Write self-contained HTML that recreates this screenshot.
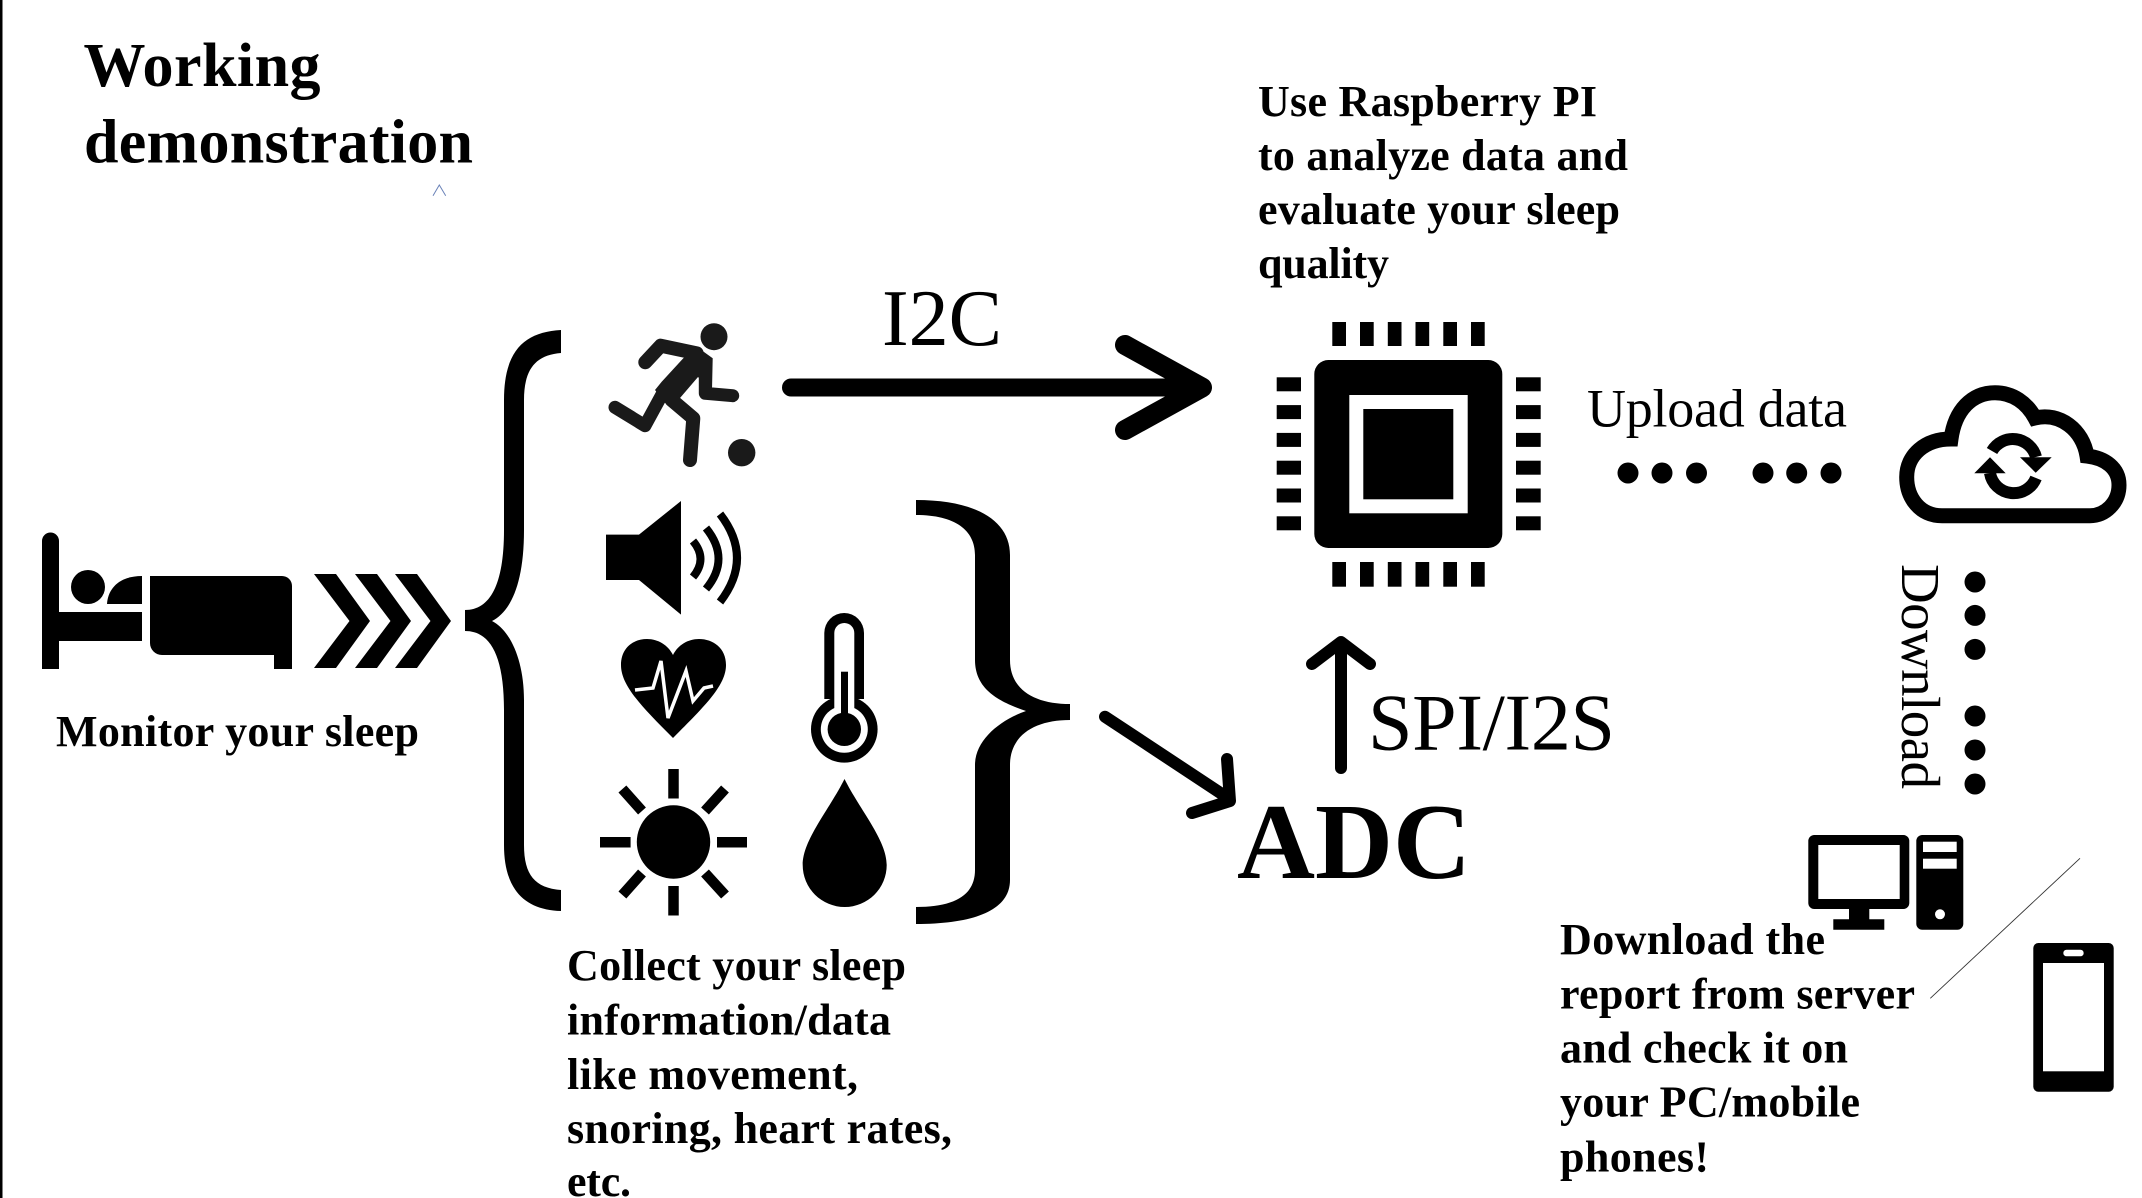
<!DOCTYPE html>
<html><head><meta charset="utf-8"><title>Working demonstration</title>
<style>html,body{margin:0;padding:0;background:#fff}svg{display:block}
text{font-family:"Liberation Serif",serif;fill:#000}
.b{font-weight:bold;font-size:44px}
</style></head><body>
<svg xmlns="http://www.w3.org/2000/svg" width="2142" height="1198" viewBox="0 0 2142 1198">
<rect width="2142" height="1198" fill="#fff"/>
<rect x="0" y="0" width="2.5" height="1198" fill="#000"/>

<!-- heading -->
<text x="83.500" y="86" font-size="62" font-weight="bold" textLength="237" lengthAdjust="spacing">Working</text>
<text x="84" y="162.700" font-size="62" font-weight="bold" textLength="389" lengthAdjust="spacing">demonstration</text>
<polyline points="433,195.700 439.300,185 445.700,195.700" fill="none" stroke="#6a82b8" stroke-width="1"/>

<!-- bed -->
<path d="M42,669V541a8.500,8.500 0 0 1 17,0V612H142V641H59V669Z"/>
<ellipse cx="88" cy="587" rx="17" ry="17"/>
<path d="M107,604C108,588 120,576 142,576V604Z"/>
<path d="M150,576H282a10,10 0 0 1 10,10V669H274V655H162a12,12 0 0 1 -12,-12Z"/>
<g id="chev">
<polygon points="314,574 336,574 370,621 336,668 314,668 349.500,621"/>
<polygon points="355,574 377,574 411,621 377,668 355,668 390.500,621"/>
<polygon points="395,574 417,574 451,621 417,668 395,668 430.500,621"/>
</g>
<text class="b" x="56" y="746" textLength="363" lengthAdjust="spacing">Monitor your sleep</text>

<!-- left brace -->
<path d="M561,330C525,332 504,350 504,400L504,530C504,585 490,610 465,610L465,631C490,631 504,655 504,710L504,845C504,890 525,910 561,911L561,890C535,888 524,875 524,845L524,700C524,660 510,630 492,621C510,612 524,585 524,530L524,400C524,370 535,355 561,353Z"/>

<!-- runner -->
<g fill="none" stroke="#1a1a1a" stroke-linecap="round" stroke-linejoin="round">
<polyline points="645.300,362.300 660.700,345.700 696.700,353.300" stroke-width="14"/>
<polyline points="705.300,367.300 705.300,393.300 732.700,395.700" stroke-width="13"/>
<polyline points="615,407.300 645,425.700 661.700,395" stroke-width="13"/>
<polyline points="671.700,400 693.300,418.300 690,460" stroke-width="14"/>
</g>
<polygon points="696.700,346.700 712.700,358.300 712,390 698,377 680,398 665,403 655,390 661.700,381.700 683.300,358.300" fill="#1a1a1a"/>
<circle cx="714" cy="336.700" r="13.500" fill="#1a1a1a"/>
<circle cx="741.700" cy="452.700" r="13.700" fill="#1a1a1a"/>

<!-- speaker -->
<polygon points="606,534.600 639,534.600 681,501 681,614.600 639,580 606,580"/>
<g fill="none" stroke="#000" stroke-width="8">
<path d="M693,541Q708,559 693,577"/>
<path d="M706,528Q731,559 706,589"/>
<path d="M720,514Q754,558 720,602"/>
</g>

<!-- heart -->
<path d="M673,738C640,705 621,685 621,665C621,648 633,639 647,639C658,639 668,645 673,655C678,645 688,639 699,639C713,639 726,648 726,665C726,685 706,705 673,738Z"/>
<polyline points="635,690 653,688 661,661 668,718 686,671 693,701 704,688 713,686" fill="none" stroke="#fff" stroke-width="3.500"/>

<!-- sun -->
<circle cx="673.500" cy="842" r="36.700"/>
<g stroke="#000" stroke-width="10.500" fill="none">
<path d="M673.500,769V798.500M673.500,886V915.500M600,842.300H630.600M717,842.300H747"/>
<path d="M622.400,789L642,811M725,789L705,811M622.400,895L642,873M725,895L705,873"/>
</g>

<!-- thermometer -->
<path d="M824.300,699V633a19.850,20 0 0 1 39.700,0V699Z"/>
<circle cx="844.300" cy="729.300" r="33.300"/>
<path d="M834.300,710V633a10,10 0 0 1 20,0V710Z" fill="#fff"/>
<circle cx="844.300" cy="729.300" r="23.500" fill="#fff"/>
<circle cx="844.300" cy="729.300" r="16.700"/>
<rect x="841" y="671.700" width="7" height="45"/>

<!-- drop -->
<path d="M844.500,779C860,810 886.700,840 886.700,865A42,42 0 0 1 802.700,865C802.700,840 829,810 844.500,779Z"/>

<!-- right brace -->
<path d="M916,500C975,500 1010,520 1010,555L1010,660C1010,690 1035,704 1070,704L1070,720C1035,720 1010,735 1010,765L1010,880C1010,910 975,924 916,924L916,907C955,907 975,895 975,870L975,765C975,740 1000,720 1026,711C1000,702 975,690 975,660L975,555C975,530 955,515 916,515Z"/>

<text x="567" y="980" class="b" textLength="339" lengthAdjust="spacing">Collect your sleep</text>
<text x="567" y="1034.500" class="b" textLength="324" lengthAdjust="spacing">information/data</text>
<text x="567" y="1089" class="b" textLength="291" lengthAdjust="spacing">like movement,</text>
<text x="567" y="1143" class="b" textLength="385" lengthAdjust="spacing">snoring, heart rates,</text>
<text x="567" y="1196" class="b" textLength="64" lengthAdjust="spacing">etc.</text>

<!-- I2C arrow -->
<text x="882" y="345" font-size="80" textLength="120" lengthAdjust="spacing">I2C</text>
<line x1="791" y1="387.500" x2="1195" y2="387.500" stroke="#000" stroke-width="18" stroke-linecap="round"/>
<polyline points="1125,345 1202,387.500 1125,430" fill="none" stroke="#000" stroke-width="20" stroke-linecap="round" stroke-linejoin="round"/>

<!-- SE arrow -->
<g fill="none" stroke="#000" stroke-width="12" stroke-linecap="round" stroke-linejoin="round">
<line x1="1105" y1="716.700" x2="1228" y2="798"/>
<polyline points="1227,759 1230,801 1192,813"/>
</g>
<text x="1237" y="878" font-size="108" font-weight="bold" textLength="234" lengthAdjust="spacing">ADC</text>

<!-- up arrow -->
<g fill="none" stroke="#000" stroke-width="12" stroke-linecap="round" stroke-linejoin="round">
<line x1="1341" y1="768" x2="1341" y2="645"/>
<polyline points="1312,664 1341,642 1370,664"/>
</g>
<text x="1368" y="749.400" font-size="80" textLength="247" lengthAdjust="spacing">SPI/I2S</text>

<!-- raspberry text -->
<text x="1258" y="116" class="b" textLength="339" lengthAdjust="spacing">Use Raspberry PI</text>
<text x="1258" y="170" class="b" textLength="370" lengthAdjust="spacing">to analyze data and</text>
<text x="1258" y="224" class="b" textLength="362" lengthAdjust="spacing">evaluate your sleep</text>
<text x="1258" y="278" class="b" textLength="131" lengthAdjust="spacing">quality</text>

<!-- chip -->
<rect x="1314.300" y="360" width="188" height="188" rx="14"/>
<rect x="1349.300" y="395" width="118.400" height="118.300" fill="#fff"/>
<rect x="1363.300" y="409" width="90" height="90.300"/>
<g>
<rect x="1332.300" y="322" width="13.700" height="24"/><rect x="1360" y="322" width="13.700" height="24"/><rect x="1387.800" y="322" width="13.700" height="24"/><rect x="1415.500" y="322" width="13.700" height="24"/><rect x="1443.300" y="322" width="13.700" height="24"/><rect x="1471" y="322" width="13.700" height="24"/>
<rect x="1332.300" y="562" width="13.700" height="24.700"/><rect x="1360" y="562" width="13.700" height="24.700"/><rect x="1387.800" y="562" width="13.700" height="24.700"/><rect x="1415.500" y="562" width="13.700" height="24.700"/><rect x="1443.300" y="562" width="13.700" height="24.700"/><rect x="1471" y="562" width="13.700" height="24.700"/>
<rect x="1276.700" y="377.300" width="24.300" height="14"/><rect x="1276.700" y="405.100" width="24.300" height="14"/><rect x="1276.700" y="432.900" width="24.300" height="14"/><rect x="1276.700" y="460.700" width="24.300" height="14"/><rect x="1276.700" y="488.500" width="24.300" height="14"/><rect x="1276.700" y="516.300" width="24.300" height="14"/>
<rect x="1516" y="377.300" width="24.700" height="14"/><rect x="1516" y="405.100" width="24.700" height="14"/><rect x="1516" y="432.900" width="24.700" height="14"/><rect x="1516" y="460.700" width="24.700" height="14"/><rect x="1516" y="488.500" width="24.700" height="14"/><rect x="1516" y="516.300" width="24.700" height="14"/>
</g>

<!-- upload -->
<text x="1587" y="426.500" font-size="54" textLength="260" lengthAdjust="spacing">Upload data</text>
<g>
<circle cx="1628" cy="473" r="10.500"/><circle cx="1662" cy="473" r="10.500"/><circle cx="1696.500" cy="473" r="10.500"/>
<circle cx="1763" cy="473" r="10.500"/><circle cx="1796.700" cy="473" r="10.500"/><circle cx="1831" cy="473" r="10.500"/>
<circle cx="1975" cy="582" r="10.500"/><circle cx="1975" cy="615.400" r="10.500"/><circle cx="1975" cy="649.400" r="10.500"/>
<circle cx="1975" cy="716" r="10.500"/><circle cx="1975" cy="750" r="10.500"/><circle cx="1975" cy="784" r="10.500"/>
</g>

<!-- cloud -->
<path d="M1942,515.700C1920,515.700 1906.700,498 1906.700,477C1906.700,455 1925,439 1951,439C1955,410 1972,392.700 1995,392.700C2013,392.700 2027,403 2035,418C2060,412 2083,430 2087,456C2105,458 2119,468 2119,485C2119,503 2105,515.700 2090,515.700Z" fill="none" stroke="#000" stroke-width="15"/>
<g fill="none" stroke="#000" stroke-width="12">
<path d="M1992,451A24,24 0 0 1 2036,457"/>
<path d="M1990,473A24,24 0 0 0 2036,478"/>
</g>
<polygon points="2020,457.300 2051.700,457.300 2035.700,472.700"/>
<polygon points="1974.300,473.300 2005.700,473.300 1990,457.300"/>

<!-- download -->
<text transform="translate(1902,564) rotate(90)" font-size="55" textLength="225" lengthAdjust="spacing">Download</text>

<!-- PC -->
<path fill-rule="evenodd" d="M1814.300,835H1903.300a6,6 0 0 1 6,6V903a6,6 0 0 1 -6,6H1869.300V919.300H1884.300V929.700H1833.300V919.300H1849V909H1814.300a6,6 0 0 1 -6,-6V841a6,6 0 0 1 6,-6ZM1818.300,845V899H1899.700V845Z"/>
<rect x="1916.300" y="835" width="47" height="94.700" rx="6"/>
<rect x="1923" y="841.700" width="33.700" height="10.300" fill="#fff"/>
<rect x="1923" y="858.700" width="33.700" height="10" fill="#fff"/>
<circle cx="1940" cy="914.300" r="5" fill="#fff"/>

<line x1="2080" y1="858.300" x2="1930.300" y2="998.300" stroke="#333" stroke-width="0.900"/>

<!-- phone -->
<rect x="2033.300" y="943" width="80.400" height="148.700" rx="5"/>
<rect x="2043" y="963" width="61" height="108.300" fill="#fff"/>
<rect x="2063.300" y="949.700" width="20.400" height="6.600" rx="3.300" fill="#fff"/>

<text x="1560" y="954" class="b" textLength="265" lengthAdjust="spacing">Download the</text>
<text x="1560" y="1008.700" class="b" textLength="355" lengthAdjust="spacing">report from server</text>
<text x="1560" y="1062.700" class="b" textLength="288" lengthAdjust="spacing">and check it on</text>
<text x="1560" y="1116.700" class="b" textLength="300" lengthAdjust="spacing">your PC/mobile</text>
<text x="1560" y="1171.500" class="b" textLength="149" lengthAdjust="spacing">phones!</text>
</svg>
</body></html>
